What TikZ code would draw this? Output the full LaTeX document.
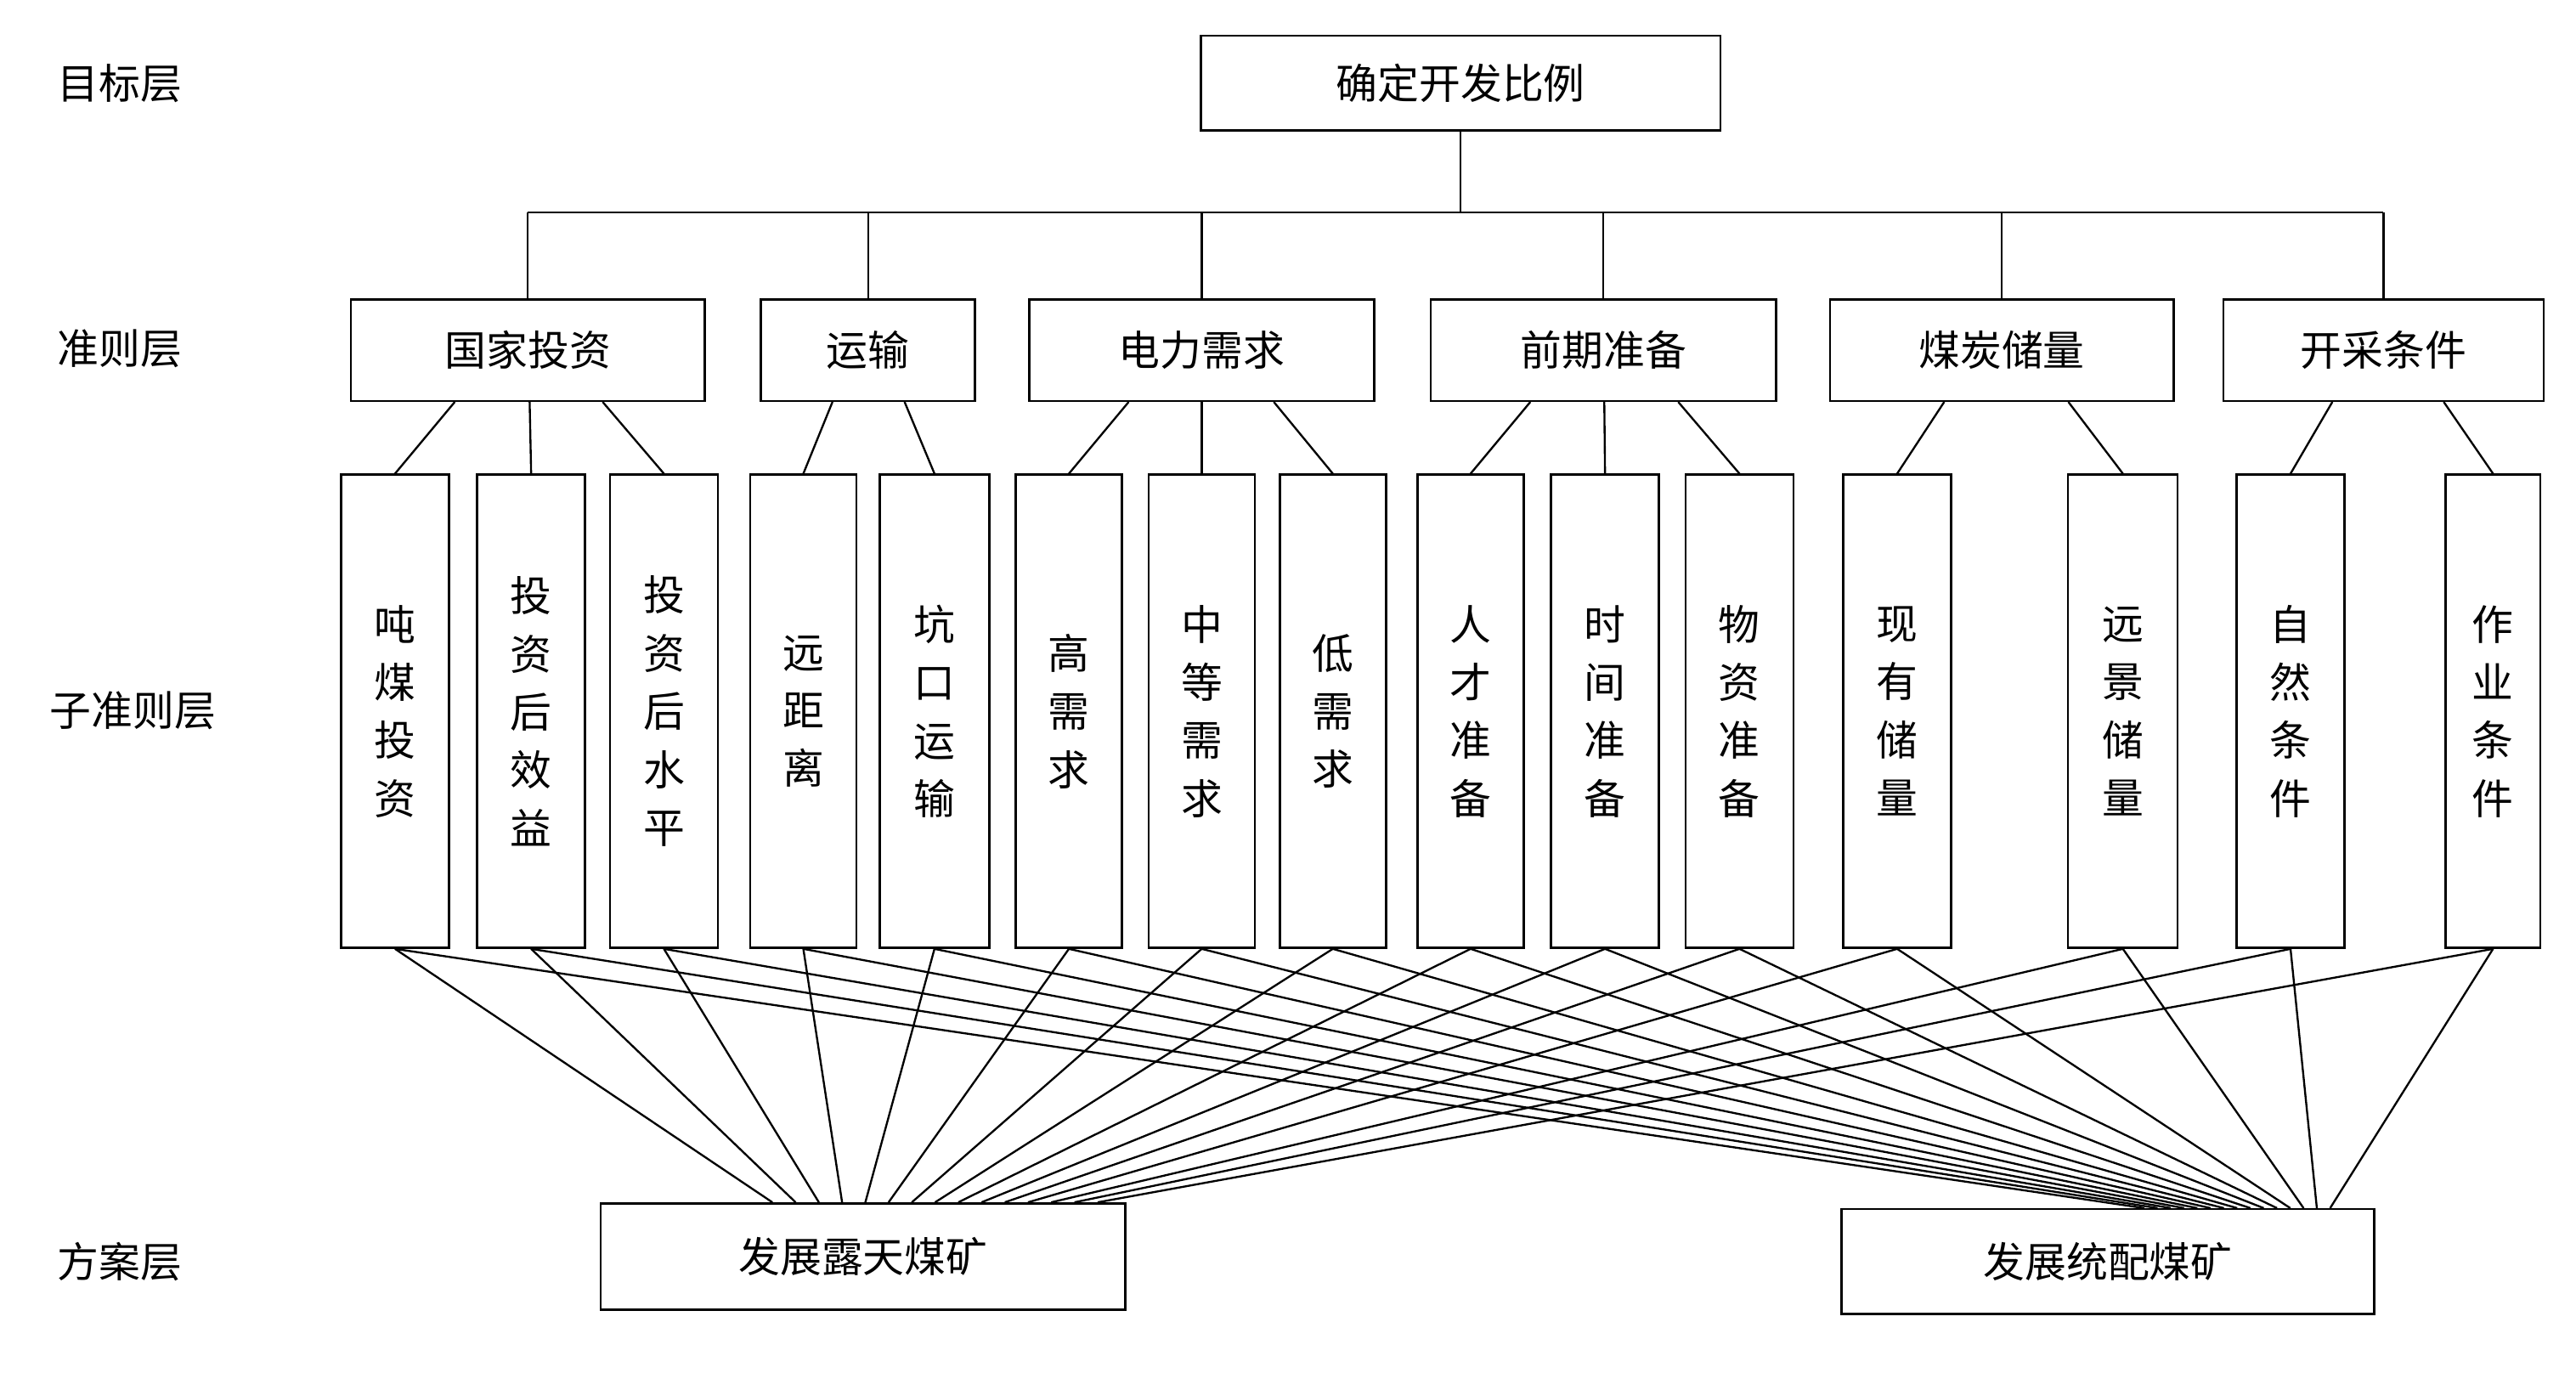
\documentclass[tikz,border=0pt]{standalone}
\usepackage{fontspec}
\setmainfont{Noto Sans CJK SC}
\usetikzlibrary{calc}
\tikzset{
box/.style={draw, line width=1.3pt, inner sep=0pt, font=\fontsize{25}{35}\selectfont}, % common box look
layer/.style={font=\fontsize{25}{28}\selectfont, anchor=center},
link/.style={line width=1.2pt},
}
\begin{document}
\begin{tikzpicture}[x=1pt,y=-1pt]
  \useasboundingbox (0,0) rectangle (1552,827);
  % layer labels
  \node[layer] (l1) at (72,50) {目标层};
  \node[layer] (l2) at (72,210) {准则层};
  \node[layer] (l3) at (80,428) {子准则层};
  \node[layer] (l4) at (72,760) {方案层};
  % goal
  \node[box, minimum width=313pt, minimum height=57pt] (goal) at (880,50) {确定开发比例};
  % criteria
  \foreach \n/\x/\w/\t in {c1/318/213/国家投资, c2/523/129/运输, c3/724/208/电力需求,
      c4/966/208/前期准备, c5/1206/207/煤炭储量, c6/1436/193/开采条件}
    \node[box, minimum width=\w pt, minimum height=61pt] (\n) at (\x,211) {\t};
  % sub-criteria
  \foreach \n/\x/\w/\t in {s1/238/65/吨\\煤\\投\\资, s2/320/65/投\\资\\后\\效\\益, s3/400/65/投\\资\\后\\水\\平,
      s4/484/64/远\\距\\离, s5/563/66/坑\\口\\运\\输, s6/644/64/高\\需\\求, s7/724/64/中\\等\\需\\求,
      s8/803/64/低\\需\\求, s9/886/64/人\\才\\准\\备, s10/967/65/时\\间\\准\\备, s11/1048/65/物\\资\\准\\备,
      s12/1143/65/现\\有\\储\\量, s13/1279/66/远\\景\\储\\量, s14/1380/65/自\\然\\条\\件, s15/1502/57/作\\业\\条\\件}
    \node[box, align=center, minimum width=\w pt, minimum height=285pt] (\n) at (\x,428.5) {\t};
  % alternatives
  \node[box, minimum width=316pt, minimum height=64pt] (a1) at (520,757) {发展露天煤矿};
  \node[box, minimum width=321pt, minimum height=63pt] (a2) at (1270,760) {发展统配煤矿};
  % goal to criteria
  \coordinate (busl) at (318,128);
  \draw[link] (goal.south) -- (goal.south|-busl);
  \draw[link] (busl) -- (c6.north|-busl);
  \foreach \n in {c1,c2,c3,c4,c5,c6}
    \draw[link] (\n.north|-busl) -- (\n.north);
  % criteria to sub-criteria
  \foreach \c/\s in {c1/s1, c1/s2, c1/s3, c2/s4, c2/s5, c3/s6, c3/s7, c3/s8,
      c4/s9, c4/s10, c4/s11, c5/s12, c5/s13, c6/s14, c6/s15}
    \draw[link] ($(\c.south)!0.55!(\s.north|-\c.south)$) -- (\s.north);
  % sub-criteria to alternatives
  \foreach \i in {1,...,15} {
    \draw[link] (s\i.south) -- ($(a1.north west)+(90+14*\i,0)$);
    \draw[link] (s\i.south) -- ($(a2.north west)+(175+8*\i,0)$);
  }
\end{tikzpicture}
\end{document}
